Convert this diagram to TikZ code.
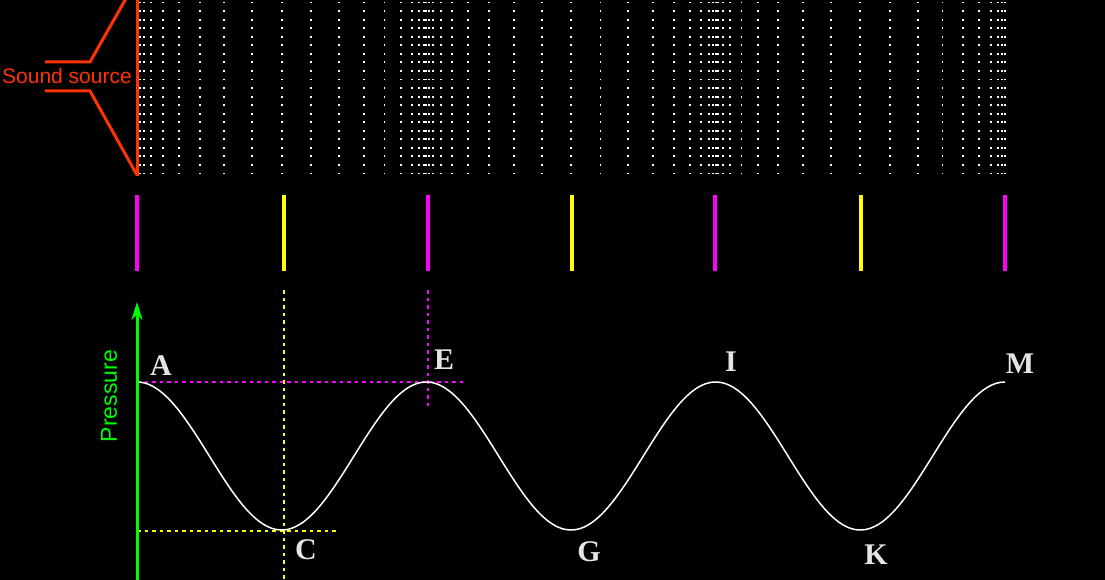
\documentclass[tikz,border=0pt]{standalone}
\usepackage{fontspec}
\usetikzlibrary{arrows.meta}
\setmainfont{Liberation Serif}
\setsansfont{Liberation Sans}
\definecolor{mag}{HTML}{FF00FF}
\definecolor{yel}{HTML}{FFFF00}
\definecolor{org}{HTML}{FF3300}
\definecolor{grn}{HTML}{00FF00}
\begin{document}
\begin{tikzpicture}[x=1pt,y=-1pt,
  lbl/.style={text=white!90!black,font=\bfseries\fontsize{30}{30}\selectfont,inner sep=0},
  mbar/.style={mag,line width=4.5pt},
  ybar/.style={yel,line width=4.5pt},
  mdash/.style={mag,line width=2.5pt,dash pattern=on 3.5pt off 4pt},
  ydash/.style={yel,line width=2.5pt,dash pattern=on 3.5pt off 4pt},
  src/.style={draw=org,line width=3pt}]
\fill[black] (0,0) rectangle (1105,580);
\useasboundingbox (0,0) rectangle (1105,580);
% dots
\foreach \i in {1,...,54}{
  \pgfmathsetmacro{\u}{\i*16.0741}
  \pgfmathsetmacro{\xx}{137+\u-39.1*sin(1.24426*\u)}
  \foreach \j in {0,...,20}{
    \fill[white] (\xx-0.9,{2.5+8.55*\j-0.9}) rectangle ++(1.9,1.9);
  }
}
% source
\draw[src,line join=miter] (128,-5) -- (90,62) -- (45,62);
\draw[src,line join=miter] (137,175) -- (90,91) -- (45,91);
\draw[src] (137,0) -- (137,176);
\node[font=\sffamily\fontsize{21}{21}\selectfont,text=org,inner sep=0] (ss) at (67,76) {Sound source};
% bars
\foreach \x in {137,428,715,1005} \draw[mbar] (\x,195) -- (\x,271);
\foreach \x in {284,572,861} \draw[ybar] (\x,195) -- (\x,271);
% dashed guides
\draw[mdash] (137,382) -- (467,382);
\draw[mdash] (428,290) -- (428,408);
\draw[ydash] (284,290) -- (284,580);
\draw[ydash] (137,531) -- (337,531);
% wave
\draw[white,line width=1.5pt,domain=0:868,samples=200,smooth] plot ({137+\x},{456-74*cos(1.24426*\x)});
% axis
\coordinate (a0) at (137,582);
\coordinate (a1) at (137,302);
\draw[grn,line width=3pt,-{Stealth[length=18pt,width=11pt]}] (a0) -- (a1);
\node[rotate=90,font=\sffamily\fontsize{23}{23}\selectfont,text=grn,inner sep=0] (pr) at (109,396) {Pressure};
% labels
\node[lbl] (A) at (161,366) {A};
\node[lbl] (E) at (444,360) {E};
\node[lbl] (I) at (731,362) {I};
\node[lbl] (M) at (1020,364) {M};
\node[lbl] (C) at (306,550) {C};
\node[lbl] (G) at (589,552) {G};
\node[lbl] (K) at (876,555) {K};
\end{tikzpicture}
\end{document}
